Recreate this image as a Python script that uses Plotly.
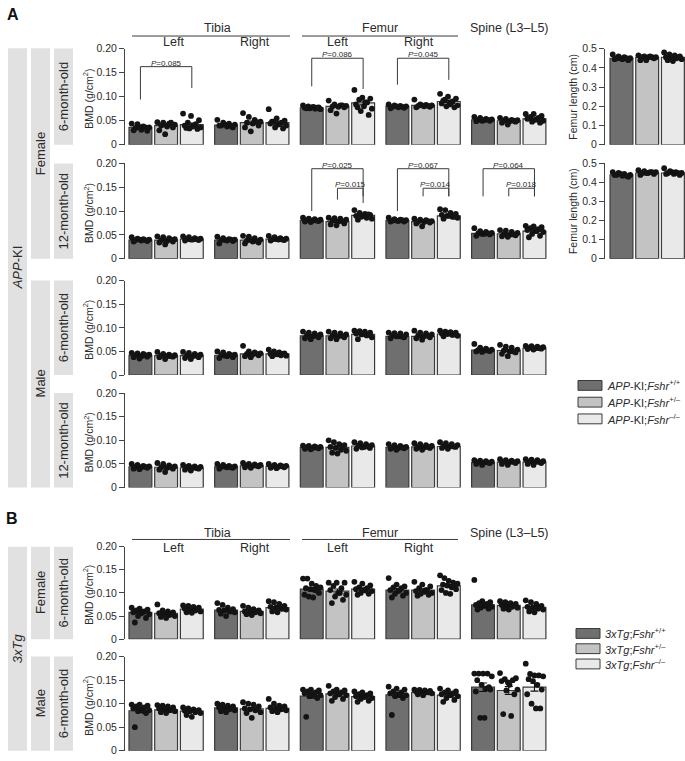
import numpy as np
import plotly.graph_objects as go

W, H = 685, 761
FONT = "Liberation Sans, Arial, sans-serif"
TXT = "#2b2b2b"
AXC = "#444444"

# ---------------- data ----------------
sites = ["Tibia", "Femur", "Spine (L3–L5)"]
sides = ["Left", "Right", "Left", "Right"]
legend_A = ["<i>APP</i>-KI;<i>Fshr</i><sup>+/+</sup>", "<i>APP</i>-KI;<i>Fshr</i><sup>+/–</sup>",
            "<i>APP</i>-KI;<i>Fshr</i><sup>–/–</sup>"]
legend_B = ["<i>3xTg</i>;<i>Fshr</i><sup>+/+</sup>", "<i>3xTg</i>;<i>Fshr</i><sup>+/–</sup>",
            "<i>3xTg</i>;<i>Fshr</i><sup>–/–</sup>"]
bmd_ticks = [0, 0.05, 0.10, 0.15, 0.20]
bmd_ticktext = ["0", "0.05", "0.10", "0.15", "0.20"]
fl_ticks = [0, 0.1, 0.2, 0.3, 0.4, 0.5]
fl_ticktext = ["0", "0.1", "0.2", "0.3", "0.4", "0.5"]

# bar means (order: Tibia L x3, Tibia R x3, Femur L x3, Femur R x3, Spine x3)
A1_mean = [0.036, 0.040, 0.042, 0.041, 0.046, 0.046, 0.077, 0.080, 0.087, 0.080, 0.082, 0.090, 0.052, 0.050, 0.054]
A2_mean = [0.039, 0.039, 0.041, 0.039, 0.039, 0.041, 0.080, 0.078, 0.091, 0.080, 0.078, 0.090, 0.053, 0.052, 0.058]
A3_mean = [0.042, 0.041, 0.041, 0.042, 0.045, 0.045, 0.083, 0.083, 0.086, 0.082, 0.082, 0.087, 0.053, 0.052, 0.057]
A4_mean = [0.044, 0.043, 0.042, 0.044, 0.046, 0.045, 0.085, 0.085, 0.088, 0.085, 0.086, 0.087, 0.053, 0.054, 0.054]
B1_mean = [0.058, 0.056, 0.065, 0.063, 0.060, 0.068, 0.108, 0.104, 0.108, 0.106, 0.106, 0.115, 0.074, 0.073, 0.069]
B2_mean = [0.085, 0.087, 0.084, 0.091, 0.089, 0.090, 0.116, 0.121, 0.115, 0.119, 0.124, 0.118, 0.135, 0.128, 0.135]

A1_pts = [
    [0.044, 0.043, 0.038, 0.036, 0.035, 0.031, 0.029, 0.030, 0.037, 0.036],
    [0.047, 0.046, 0.044, 0.042, 0.040, 0.038, 0.036, 0.030, 0.022, 0.046],
    [0.065, 0.060, 0.051, 0.046, 0.043, 0.040, 0.038, 0.036, 0.034, 0.033, 0.035, 0.040],
    [0.052, 0.046, 0.044, 0.042, 0.040, 0.038, 0.036, 0.040, 0.042, 0.039],
    [0.066, 0.058, 0.052, 0.048, 0.046, 0.044, 0.040, 0.036, 0.028, 0.047],
    [0.074, 0.055, 0.050, 0.048, 0.046, 0.044, 0.042, 0.040, 0.036, 0.034, 0.048, 0.043],
    [0.082, 0.080, 0.079, 0.078, 0.077, 0.076, 0.075, 0.074, 0.076, 0.078, 0.077],
    [0.092, 0.084, 0.082, 0.081, 0.080, 0.079, 0.078, 0.072, 0.065, 0.082],
    [0.114, 0.098, 0.096, 0.094, 0.088, 0.084, 0.080, 0.075, 0.070, 0.062, 0.078, 0.088],
    [0.084, 0.082, 0.081, 0.080, 0.079, 0.078, 0.077, 0.076, 0.080, 0.079],
    [0.094, 0.084, 0.083, 0.082, 0.081, 0.080, 0.079, 0.078, 0.082, 0.081],
    [0.106, 0.100, 0.096, 0.094, 0.090, 0.086, 0.084, 0.082, 0.080, 0.078, 0.092, 0.088],
    [0.058, 0.056, 0.054, 0.053, 0.052, 0.051, 0.050, 0.049, 0.050, 0.052],
    [0.056, 0.054, 0.052, 0.051, 0.050, 0.049, 0.048, 0.046, 0.042, 0.050],
    [0.064, 0.064, 0.060, 0.058, 0.056, 0.054, 0.052, 0.050, 0.048, 0.046, 0.055, 0.053],
]
A2_pts = [
    [0.045, 0.042, 0.041, 0.040, 0.039, 0.038, 0.037, 0.036, 0.040, 0.039],
    [0.047, 0.045, 0.043, 0.041, 0.039, 0.037, 0.036, 0.034, 0.030, 0.040],
    [0.047, 0.045, 0.043, 0.042, 0.041, 0.040, 0.039, 0.038, 0.040, 0.041],
    [0.046, 0.043, 0.041, 0.040, 0.039, 0.038, 0.037, 0.032, 0.039, 0.040],
    [0.048, 0.046, 0.043, 0.040, 0.038, 0.036, 0.034, 0.032, 0.039, 0.037],
    [0.048, 0.045, 0.043, 0.042, 0.041, 0.040, 0.039, 0.038, 0.041, 0.040],
    [0.086, 0.084, 0.083, 0.082, 0.081, 0.080, 0.079, 0.078, 0.077, 0.080],
    [0.086, 0.085, 0.084, 0.082, 0.080, 0.078, 0.074, 0.072, 0.070, 0.079],
    [0.102, 0.096, 0.094, 0.092, 0.090, 0.088, 0.086, 0.084, 0.082, 0.090, 0.093],
    [0.086, 0.083, 0.082, 0.081, 0.080, 0.079, 0.078, 0.078, 0.080, 0.081],
    [0.084, 0.082, 0.081, 0.079, 0.078, 0.077, 0.076, 0.074, 0.068, 0.079],
    [0.104, 0.102, 0.096, 0.094, 0.092, 0.090, 0.088, 0.086, 0.084, 0.090, 0.088],
    [0.064, 0.058, 0.056, 0.054, 0.053, 0.052, 0.051, 0.048, 0.052, 0.053],
    [0.060, 0.059, 0.056, 0.054, 0.052, 0.050, 0.049, 0.047, 0.046, 0.051],
    [0.069, 0.068, 0.066, 0.064, 0.062, 0.060, 0.058, 0.056, 0.052, 0.048, 0.045, 0.058],
]
A3_pts = [
    [0.047, 0.046, 0.045, 0.043, 0.042, 0.040, 0.039, 0.038, 0.035, 0.042],
    [0.049, 0.045, 0.043, 0.042, 0.041, 0.040, 0.039, 0.038, 0.034, 0.040],
    [0.049, 0.047, 0.045, 0.043, 0.041, 0.040, 0.038, 0.036, 0.034, 0.041],
    [0.050, 0.048, 0.045, 0.043, 0.042, 0.040, 0.038, 0.036, 0.041, 0.042],
    [0.062, 0.050, 0.048, 0.046, 0.045, 0.044, 0.042, 0.040, 0.038, 0.045],
    [0.054, 0.050, 0.048, 0.046, 0.045, 0.044, 0.042, 0.041, 0.040, 0.044, 0.045],
    [0.092, 0.090, 0.088, 0.086, 0.084, 0.082, 0.080, 0.078, 0.076, 0.083],
    [0.092, 0.090, 0.088, 0.086, 0.084, 0.082, 0.080, 0.078, 0.076, 0.083],
    [0.094, 0.093, 0.092, 0.090, 0.088, 0.086, 0.084, 0.080, 0.076, 0.087, 0.085],
    [0.090, 0.089, 0.088, 0.086, 0.084, 0.082, 0.080, 0.078, 0.082, 0.081],
    [0.094, 0.090, 0.088, 0.086, 0.084, 0.082, 0.080, 0.078, 0.075, 0.083],
    [0.094, 0.092, 0.091, 0.090, 0.088, 0.087, 0.085, 0.083, 0.082, 0.088, 0.086],
    [0.066, 0.058, 0.056, 0.054, 0.053, 0.052, 0.051, 0.050, 0.049, 0.052],
    [0.064, 0.060, 0.058, 0.054, 0.052, 0.050, 0.048, 0.045, 0.040, 0.050],
    [0.062, 0.061, 0.060, 0.059, 0.058, 0.057, 0.056, 0.055, 0.054, 0.057],
]
A4_pts = [
    [0.050, 0.048, 0.046, 0.045, 0.044, 0.043, 0.042, 0.040, 0.039, 0.044],
    [0.052, 0.050, 0.047, 0.045, 0.043, 0.042, 0.040, 0.038, 0.033, 0.043],
    [0.048, 0.046, 0.045, 0.044, 0.043, 0.042, 0.040, 0.038, 0.036, 0.041],
    [0.050, 0.048, 0.046, 0.045, 0.044, 0.043, 0.042, 0.040, 0.044, 0.043],
    [0.052, 0.050, 0.049, 0.048, 0.047, 0.046, 0.045, 0.043, 0.042, 0.046],
    [0.050, 0.048, 0.047, 0.046, 0.045, 0.044, 0.043, 0.042, 0.041, 0.045],
    [0.089, 0.088, 0.087, 0.086, 0.085, 0.084, 0.083, 0.082, 0.081, 0.085],
    [0.100, 0.096, 0.092, 0.090, 0.086, 0.084, 0.080, 0.078, 0.074, 0.072, 0.086],
    [0.096, 0.094, 0.092, 0.090, 0.088, 0.086, 0.084, 0.082, 0.085, 0.087],
    [0.092, 0.090, 0.088, 0.086, 0.085, 0.084, 0.083, 0.082, 0.080, 0.085],
    [0.094, 0.092, 0.090, 0.088, 0.086, 0.085, 0.084, 0.082, 0.080, 0.086],
    [0.096, 0.094, 0.092, 0.090, 0.088, 0.087, 0.086, 0.084, 0.082, 0.087],
    [0.058, 0.057, 0.056, 0.055, 0.054, 0.053, 0.052, 0.050, 0.048, 0.053],
    [0.060, 0.058, 0.057, 0.056, 0.055, 0.054, 0.052, 0.050, 0.048, 0.054],
    [0.060, 0.059, 0.058, 0.056, 0.055, 0.054, 0.052, 0.050, 0.048, 0.054],
]
B1_pts = [
    [0.068, 0.066, 0.064, 0.062, 0.060, 0.058, 0.056, 0.054, 0.050, 0.046, 0.036, 0.058],
    [0.075, 0.062, 0.060, 0.058, 0.056, 0.054, 0.052, 0.050, 0.048, 0.046, 0.055],
    [0.073, 0.072, 0.070, 0.068, 0.066, 0.064, 0.062, 0.060, 0.058, 0.057, 0.065],
    [0.078, 0.074, 0.068, 0.065, 0.063, 0.062, 0.060, 0.058, 0.055, 0.050, 0.060],
    [0.072, 0.068, 0.065, 0.062, 0.060, 0.059, 0.058, 0.056, 0.054, 0.052, 0.060],
    [0.082, 0.080, 0.076, 0.072, 0.070, 0.068, 0.066, 0.064, 0.060, 0.058, 0.066],
    [0.131, 0.131, 0.120, 0.115, 0.112, 0.110, 0.108, 0.106, 0.100, 0.096, 0.092, 0.090, 0.104],
    [0.122, 0.122, 0.122, 0.115, 0.110, 0.106, 0.100, 0.096, 0.092, 0.085, 0.078, 0.100],
    [0.124, 0.120, 0.116, 0.112, 0.110, 0.108, 0.106, 0.104, 0.100, 0.098, 0.096, 0.105],
    [0.132, 0.118, 0.114, 0.112, 0.110, 0.106, 0.104, 0.100, 0.098, 0.094, 0.090, 0.106],
    [0.124, 0.118, 0.114, 0.110, 0.106, 0.104, 0.102, 0.100, 0.098, 0.096, 0.094, 0.106],
    [0.138, 0.132, 0.126, 0.122, 0.120, 0.118, 0.116, 0.112, 0.108, 0.106, 0.100, 0.098, 0.115],
    [0.128, 0.082, 0.080, 0.078, 0.076, 0.074, 0.072, 0.070, 0.068, 0.066, 0.064, 0.072],
    [0.082, 0.080, 0.078, 0.076, 0.074, 0.072, 0.070, 0.068, 0.066, 0.064, 0.073],
    [0.084, 0.080, 0.076, 0.072, 0.070, 0.068, 0.066, 0.064, 0.060, 0.058, 0.068],
]
B2_pts = [
    [0.098, 0.098, 0.096, 0.094, 0.092, 0.090, 0.088, 0.086, 0.084, 0.080, 0.050, 0.085],
    [0.097, 0.096, 0.094, 0.092, 0.090, 0.088, 0.086, 0.084, 0.082, 0.080, 0.087],
    [0.092, 0.090, 0.088, 0.086, 0.085, 0.084, 0.082, 0.080, 0.076, 0.072, 0.084],
    [0.100, 0.098, 0.096, 0.094, 0.092, 0.090, 0.088, 0.086, 0.084, 0.082, 0.091],
    [0.103, 0.100, 0.098, 0.094, 0.090, 0.088, 0.086, 0.082, 0.080, 0.070, 0.088],
    [0.110, 0.100, 0.096, 0.094, 0.092, 0.090, 0.088, 0.086, 0.084, 0.082, 0.089],
    [0.130, 0.130, 0.128, 0.126, 0.124, 0.122, 0.120, 0.118, 0.116, 0.112, 0.072, 0.118],
    [0.138, 0.130, 0.128, 0.126, 0.124, 0.122, 0.120, 0.118, 0.114, 0.110, 0.106, 0.120],
    [0.126, 0.124, 0.122, 0.120, 0.118, 0.116, 0.114, 0.112, 0.110, 0.106, 0.104, 0.115],
    [0.136, 0.132, 0.130, 0.126, 0.124, 0.122, 0.120, 0.118, 0.116, 0.112, 0.076, 0.118],
    [0.130, 0.129, 0.128, 0.127, 0.126, 0.125, 0.124, 0.122, 0.120, 0.118, 0.124],
    [0.132, 0.128, 0.126, 0.124, 0.122, 0.120, 0.118, 0.116, 0.112, 0.108, 0.104, 0.118],
    [0.164, 0.164, 0.164, 0.164, 0.158, 0.150, 0.140, 0.132, 0.130, 0.126, 0.070, 0.070, 0.135],
    [0.165, 0.145, 0.154, 0.152, 0.150, 0.148, 0.140, 0.130, 0.128, 0.120, 0.078, 0.074],
    [0.185, 0.163, 0.160, 0.160, 0.158, 0.152, 0.148, 0.140, 0.130, 0.120, 0.100, 0.090, 0.090],
]
FL1_mean = [0.450, 0.455, 0.455]
FL2_mean = [0.440, 0.450, 0.450]
FL1_pts = [
    [0.470, 0.460, 0.455, 0.450, 0.450, 0.445, 0.440, 0.445, 0.450, 0.450],
    [0.465, 0.460, 0.460, 0.455, 0.455, 0.455, 0.450, 0.440, 0.440, 0.455],
    [0.480, 0.470, 0.465, 0.460, 0.455, 0.450, 0.450, 0.445, 0.440, 0.435, 0.455],
]
FL2_pts = [
    [0.455, 0.450, 0.445, 0.440, 0.440, 0.435, 0.430, 0.440, 0.445, 0.435],
    [0.465, 0.460, 0.455, 0.455, 0.450, 0.450, 0.445, 0.440, 0.450, 0.455],
    [0.475, 0.460, 0.455, 0.450, 0.450, 0.445, 0.440, 0.445, 0.455, 0.450],
]
# significance brackets: (row, group, bar_a, bar_b, top, left_end, right_end, label)
brackets = [
    (0, 0, 0, 2, 0.1625, 0.094, 0.118, "0.085"),
    (0, 2, 0, 2, 0.180, 0.1215, 0.116, "0.086"),
    (0, 3, 0, 2, 0.180, 0.125, 0.135, "0.045"),
    (1, 2, 0, 2, 0.189, 0.100, 0.117, "0.025"),
    (1, 2, 1, 2, 0.148, 0.124, 0.131, "0.015"),
    (1, 3, 0, 2, 0.189, 0.100, 0.131, "0.067"),
    (1, 3, 1, 2, 0.148, 0.131, 0.131, "0.014"),
    (1, 4, 0, 2, 0.189, 0.131, 0.131, "0.064"),
    (1, 4, 1, 2, 0.148, 0.131, 0.131, "0.018"),
]

bar_colors = ["#6f6f6f", "#c3c3c3", "#e9e9e9"]
strip_col = "#e1e1e1"

# ---------------- layout helpers ----------------
def px_x(v):
    return v / W

def px_y(v):
    return 1 - v / H

# rows: (top px, bottom px)
rows_px = [(43.3, 141.0), (160.0, 256.7), (279.0, 375.0), (393.3, 489.3), (549.3, 643.3), (661.0, 756.7)]
means = [A1_mean, A2_mean, A3_mean, A4_mean, B1_mean, B2_mean]
points = [A1_pts, A2_pts, A3_pts, A4_pts, B1_pts, B2_pts]

GSTEP = 10.0 / 3.0
xpos = [g * GSTEP + b for g in range(5) for b in range(3)]
XR = [-0.6, 15.86]
BMD_X0, BMD_X1 = 125, 548
FL_X0, FL_X1 = 605, 685
FLR = [-0.64, 2.47]


def jitter(n, half=0.34):
    slots = np.linspace(-half, half, n)
    step = next(s for s in (3, 5, 7, 4, 2) if np.gcd(s, n) == 1)
    return [slots[(i * step) % n] for i in range(n)]


def sfx(i):
    return "" if i == 1 else str(i)


fig = go.Figure()
layout = dict(width=W, height=H, margin=dict(l=0, r=0, t=0, b=0),
              paper_bgcolor="white", plot_bgcolor="white", showlegend=False,
              font=dict(family=FONT, color=TXT))
shapes = []
annots = []


def add_axes(idx, xdom, ydom, xr, yr, tv, tt):
    layout["xaxis" + sfx(idx)] = dict(domain=xdom, range=xr, visible=False, fixedrange=True,
                                      anchor="y" + sfx(idx))
    layout["yaxis" + sfx(idx)] = dict(domain=ydom, range=yr, anchor="x" + sfx(idx),
                                      showline=True, linecolor=AXC, linewidth=1,
                                      ticks="outside", ticklen=5, tickwidth=1, tickcolor=AXC,
                                      tickvals=tv, ticktext=tt, showgrid=False, zeroline=False,
                                      tickfont=dict(size=10.5, color=TXT, family=FONT))


def add_bar_set(idx, xs, mvals, pts):
    xa, ya = "x" + sfx(idx), "y" + sfx(idx)
    cols = [bar_colors[i % 3] for i in range(len(xs))]
    fig.add_trace(go.Bar(x=xs, y=mvals, width=0.89, xaxis=xa, yaxis=ya,
                         marker=dict(color=cols, line=dict(color="#3a3a3a", width=1.2))))
    dx, dy = [], []
    for x, p in zip(xs, pts):
        for o, v in zip(jitter(len(p)), p):
            dx.append(x + o)
            dy.append(v)
    fig.add_trace(go.Scatter(x=dx, y=dy, mode="markers", xaxis=xa, yaxis=ya, cliponaxis=False,
                             marker=dict(size=5.8, color="#141414", line=dict(width=0))))
    sems = [float(np.std(p, ddof=1) / np.sqrt(len(p))) for p in pts]
    fig.add_trace(go.Scatter(x=xs, y=mvals, mode="markers", xaxis=xa, yaxis=ya,
                             marker=dict(size=1, color="rgba(0,0,0,0)"),
                             error_y=dict(type="data", array=sems, color="#111111",
                                          thickness=1.1, width=4)))


def text(s, x, y, size, angle=0, bold=False, xanchor="center"):
    annots.append(dict(x=px_x(x), y=px_y(y), xref="paper", yref="paper",
                       text=("<b>%s</b>" % s) if bold else s, textangle=angle, showarrow=False,
                       xanchor=xanchor, yanchor="middle",
                       font=dict(size=size, color="#111111" if bold else TXT, family=FONT)))


# BMD panels
for r, (t, b) in enumerate(rows_px):
    idx = r + 1
    add_axes(idx, [px_x(BMD_X0), px_x(BMD_X1)], [px_y(b), px_y(t)], XR, [0, 0.2],
             bmd_ticks, bmd_ticktext)
    add_bar_set(idx, xpos, means[r], points[r])
    text("BMD (g/cm<sup>2</sup>)", 88, (t + b) / 2 + 2, 10.5, angle=-90)

# femur length panels
for k, (fm, fp) in enumerate([(FL1_mean, FL1_pts), (FL2_mean, FL2_pts)]):
    idx = 7 + k
    t, b = rows_px[k]
    add_axes(idx, [px_x(FL_X0), 1.0], [px_y(b), px_y(t)], FLR, [0, 0.5], fl_ticks, fl_ticktext)
    add_bar_set(idx, [0, 1, 2], fm, fp)
    text("Femur length (cm)", 573, (t + b) / 2, 10.5, angle=-90)

# brackets
for (r, g, ba, bb, top, le, re_, lab) in brackets:
    xa, ya = "x" + sfx(r + 1), "y" + sfx(r + 1)
    x0, x1 = g * GSTEP + ba, g * GSTEP + bb
    for (xs0, ys0, xs1, ys1) in [(x0, le, x0, top), (x0, top, x1, top), (x1, top, x1, re_)]:
        shapes.append(dict(type="line", xref=xa, yref=ya, x0=xs0, y0=ys0, x1=xs1, y1=ys1,
                           line=dict(color="#3a3a3a", width=1)))
    annots.append(dict(x=(x0 + x1) / 2, y=top, xref=xa, yref=ya, text="<i>P</i>=" + lab,
                       showarrow=False, xanchor="center", yanchor="bottom", yshift=-2,
                       borderpad=0,
                       font=dict(size=8, color=TXT, family=FONT)))


def hline(x0, x1, y):
    shapes.append(dict(type="line", xref="paper", yref="paper", x0=px_x(x0), x1=px_x(x1),
                       y0=px_y(y), y1=px_y(y), line=dict(color="#3a3a3a", width=1)))


def rect(x0, y0, x1, y1, col, line=None):
    shapes.append(dict(type="rect", xref="paper", yref="paper", x0=px_x(x0), x1=px_x(x1),
                       y0=px_y(y1), y1=px_y(y0), fillcolor=col, layer="below",
                       line=dict(width=0 if line is None else 1, color=line or col)))


# headers for A and B
for (ty, ly, sy) in [(22.5, 30.5, 37.0), (535.0, 542.0, 550.5)]:
    text(sites[0], 217, ty, 12.5)
    hline(132, 290, ly)
    text(sites[1], 380, ty, 12.5)
    hline(302, 458, ly)
    text(sites[2], 509, ty, 12.5)
    for s, cx in zip(sides, [174, 255, 337, 419]):
        annots.append(dict(x=px_x(cx), y=px_y(sy), xref="paper", yref="paper", text=s,
                           showarrow=False, xanchor="center", yanchor="middle", borderpad=0,
                           font=dict(size=12.5, color=TXT, family=FONT)))

text("A", 13, 9, 16, bold=True)
text("B", 12, 521, 16, bold=True)

# side strips
rect(8, 43, 27, 489.3, strip_col)
text("<i>APP</i>-KI", 17.5, 266, 13, angle=-90)
rect(31, 43, 50, 256.7, strip_col)
text("Female", 40.5, 150, 13, angle=-90)
rect(31, 279, 50, 489.3, strip_col)
text("Male", 40.5, 384, 13, angle=-90)
for lab, (t, b) in zip(["6-month-old", "12-month-old", "6-month-old", "12-month-old"], rows_px[:4]):
    rect(54, t, 73, b, strip_col)
    text(lab, 63.5, (t + b) / 2, 13, angle=-90)

rect(8, 549.3, 27, 756.7, strip_col)
text("<i>3xTg</i>", 17.5, 653, 13, angle=-90)
rect(31, 549.3, 50, 643.3, strip_col)
text("Female", 40.5, 596, 13, angle=-90)
rect(31, 661, 50, 756.7, strip_col)
text("Male", 40.5, 709, 13, angle=-90)
for (t, b) in rows_px[4:]:
    rect(54, t, 73, b, strip_col)
    text("6-month-old", 63.5, (t + b) / 2, 13, angle=-90)

# legends
for labels, x0, ys in [(legend_A, 578, [385.5, 402.5, 419.5]), (legend_B, 576, [637.5, 653, 668.5])]:
    for lab, col, yc in zip(labels, bar_colors, ys):
        rect(x0, yc - 5, x0 + 24, yc + 5, col, line="#3a3a3a")
        text(lab, x0 + 27, yc, 11, xanchor="left")

layout["shapes"] = shapes
layout["annotations"] = annots
fig.update_layout(**layout)
fig.write_html("out.html")
